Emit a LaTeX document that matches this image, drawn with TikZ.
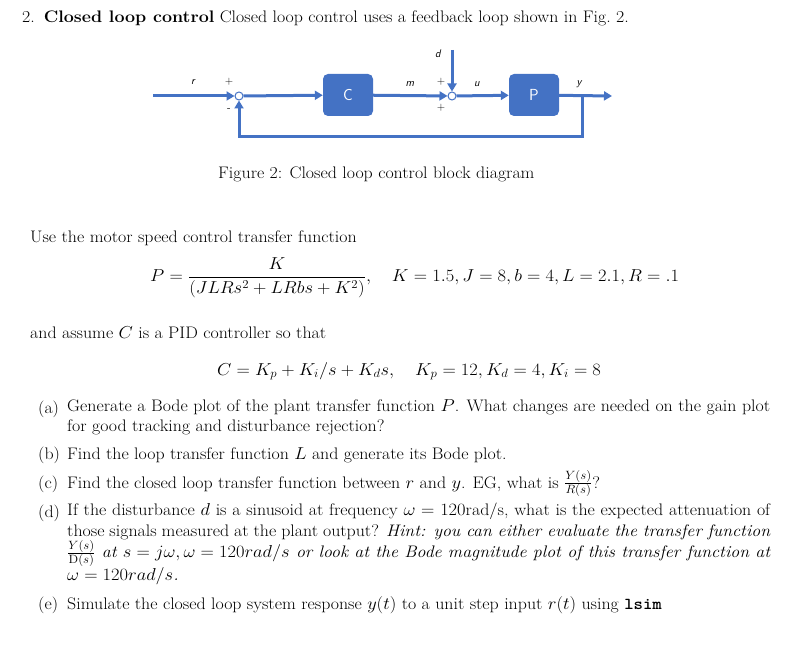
\documentclass[tikz,border=0pt]{standalone}
\usepackage{graphicx,amsmath}
\usetikzlibrary{arrows.meta}
\definecolor{bl}{HTML}{4472C4}
\newcommand\hs[1]{\scalebox{1.07}[1]{#1}}
\newcommand\tf{\fontsize{16.7}{20.5}\selectfont}
\begin{document}
\begin{tikzpicture}[x=1pt,y=-1pt,
  wire/.style={bl,line width=3pt},
  arr/.style={wire,-{Triangle[length=8pt,width=9pt]}},
  blk/.style={fill=bl,rounded corners=5pt,text=white,font=\sffamily\fontsize{16}{16}\selectfont,minimum width=50pt,minimum height=42pt,inner sep=0},
  sumc/.style={circle,draw=bl,fill=white,line width=1pt,minimum size=8pt,inner sep=0},
  lab/.style={font=\sffamily\itshape\fontsize{11}{11}\selectfont},
  pm/.style={font=\sffamily\fontsize{11}{11}\selectfont},
  txt/.style={anchor=base west,inner sep=0,font=\tf}]
\useasboundingbox (0,0) rectangle (798,655);
% diagram
\coordinate (in) at (153,96);
\node[sumc] (s1) at (239,96) {};
\node[blk] (C) at (348,95) {C};
\node[sumc] (s2) at (452,96) {};
\node[blk] (P) at (534,95) {P};
\coordinate (out) at (612,96);
\coordinate (tap) at (582,96);
\coordinate (dtop) at (452,50);
\coordinate (bot) at (582,137);
\coordinate (botl) at (239,137);
\draw[arr] (in) -- (s1);
\draw[arr] (s1) -- (C);
\draw[arr] (C) -- (s2);
\draw[arr] (s2) -- (P);
\draw[arr] (P) -- (out);
\draw[arr] (dtop) -- (s2);
\draw[arr] (tap) -- (bot) -- (botl) -- (s1);
\node[lab] (lr) at (193,82) {r};
\node[pm] (p1) at (229,82) {+};
\node[pm] (m1) at (229,110) {-};
\node[lab] (lm) at (410,84) {m};
\node[pm] (p2) at (441,82) {+};
\node[pm] (p3) at (441,108) {+};
\node[lab] (ld) at (438,54) {d};
\node[lab] (lu) at (477,84) {u};
\node[lab] (ly) at (579,84) {y};
% text
\node[txt] (t1) at (22,23) {\hs{2.\enspace\textbf{Closed loop control} Closed loop control uses a feedback loop shown in Fig.~2.}};
\node[txt] (cap) at (218,179) {\hs{Figure 2: Closed loop control block diagram}};
\node[txt] (t2) at (30,243) {\hs{Use the motor speed control transfer function}};
\node[anchor=west,inner sep=0,font=\tf] (eq1) at (150,278) {\hs{$\displaystyle P=\frac{K}{(JLRs^2+LRbs+K^2)},\quad K=1.5,J=8,b=4,L=2.1,R=.1$}};
\node[txt] (t3) at (30,338) {\hs{and assume $C$ is a PID controller so that}};
\node[txt] (eq2) at (217,375) {\hs{$C=K_p+K_i/s+K_ds,\quad K_p=12,K_d=4,K_i=8$}};
\node[txt] (la) at (38,413) {\hs{(a)}};
\node[anchor=north west,inner sep=0,font=\tf] (ia) at (67,399) {\hs{\parbox[t]{657pt}{\tf Generate a Bode plot of the plant transfer function $P$. What changes are needed on the gain plot for good tracking and disturbance rejection?}}};
\node[txt] (lb) at (38,459) {\hs{(b)}};
\node[txt] (ib) at (67,459) {\hs{Find the loop transfer function $L$ and generate its Bode plot.}};
\node[txt] (lc) at (38,488) {\hs{(c)}};
\node[txt] (ic) at (67,488) {\hs{Find the closed loop transfer function between $r$ and $y$. EG, what is $\frac{Y(s)}{R(s)}$?}};
\node[txt] (ld2) at (38,517) {\hs{(d)}};
\node[anchor=north west,inner sep=0,font=\tf] (id) at (67,503) {\hs{\parbox[t]{657pt}{\tf If the disturbance $d$ is a sinusoid at frequency $\omega=120$rad/s, what is the expected attenuation of those signals measured at the plant output? \emph{Hint: you can either evaluate the transfer function $\frac{Y(s)}{\mathrm{D}(s)}$ at $s=j\omega,\omega=120rad/s$ or look at the Bode magnitude plot of this transfer function at $\omega=120rad/s$.}}}};
\node[txt] (le) at (38,609) {\hs{(e)}};
\node[txt] (ie) at (67,609) {\hs{Simulate the closed loop system response $y(t)$ to a unit step input $r(t)$ using \texttt{\textbf{lsim}}}};
\end{tikzpicture}
\end{document}
